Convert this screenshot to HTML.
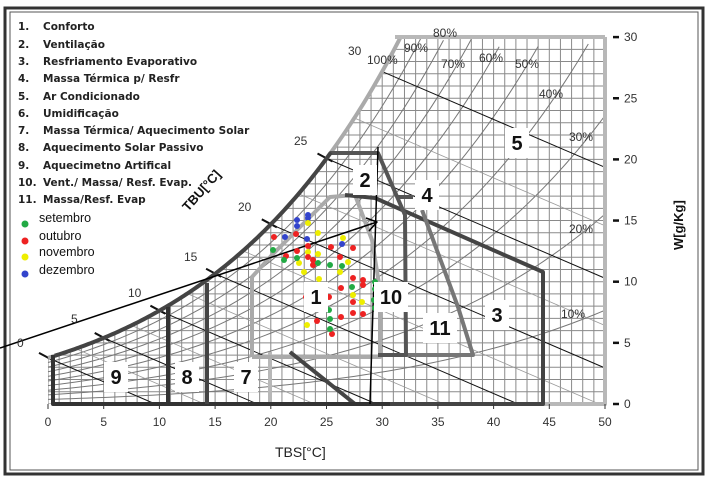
<!DOCTYPE html>
<html><head><meta charset="utf-8"><style>
html,body{margin:0;padding:0;background:#fff;width:710px;height:481px;overflow:hidden}
svg{display:block}
text{font-family:"Liberation Sans",Arial,sans-serif}
.lg{font-family:"DejaVu Sans",sans-serif;font-weight:bold;font-size:10.5px;fill:#222}
.ax{font-size:12px;fill:#333}
.bx{font-size:20px;font-weight:bold;fill:#111}
</style></head><body>
<svg id="s" width="710" height="481" viewBox="0 0 710 481" xmlns="http://www.w3.org/2000/svg">
<rect x="5" y="8" width="698" height="466" fill="none" stroke="#333" stroke-width="3"/>
<rect x="10" y="12" width="688" height="458" fill="none" stroke="#555" stroke-width="1"/>
<defs><clipPath id="cp"><path id="cpp" d=""/></clipPath></defs>
<g id="grid" clip-path="url(#cp)"></g>
<g id="curves"></g>
<g id="zones" fill="none" stroke-linejoin="round"></g>
<g id="dots"></g>
<g id="labels">
<text class="lg" x="18" y="30">1.</text><text class="lg" x="43" y="30">Conforto</text>
<text class="lg" x="18" y="48">2.</text><text class="lg" x="43" y="48">Ventilação</text>
<text class="lg" x="18" y="65">3.</text><text class="lg" x="43" y="65">Resfriamento Evaporativo</text>
<text class="lg" x="18" y="82">4.</text><text class="lg" x="43" y="82">Massa Térmica p/ Resfr</text>
<text class="lg" x="18" y="100">5.</text><text class="lg" x="43" y="100">Ar Condicionado</text>
<text class="lg" x="18" y="117">6.</text><text class="lg" x="43" y="117">Umidificação</text>
<text class="lg" x="18" y="134">7.</text><text class="lg" x="43" y="134">Massa Térmica/ Aquecimento Solar</text>
<text class="lg" x="18" y="151">8.</text><text class="lg" x="43" y="151">Aquecimento Solar Passivo</text>
<text class="lg" x="18" y="169">9.</text><text class="lg" x="43" y="169">Aquecimetno Artifical</text>
<text class="lg" x="18" y="186">10.</text><text class="lg" x="43" y="186">Vent./ Massa/ Resf. Evap.</text>
<text class="lg" x="18" y="203">11.</text><text class="lg" x="43" y="203">Massa/Resf. Evap</text>
<circle cx="25" cy="224" r="3.5" fill="#22aa44"/><text x="39" y="222" font-size="12.5" fill="#111">setembro</text>
<circle cx="25" cy="241" r="3.5" fill="#ee2222"/><text x="39" y="240" font-size="12.5" fill="#111">outubro</text>
<circle cx="25" cy="257" r="3.5" fill="#eeee00"/><text x="39" y="256" font-size="12.5" fill="#111">novembro</text>
<circle cx="25" cy="274" r="3.5" fill="#3344cc"/><text x="39" y="274" font-size="12.5" fill="#111">dezembro</text>
<text x="188" y="212" font-size="13" fill="#111" transform="rotate(-48 188 212)" font-weight="bold">TBU[°C]</text>
<text x="683" y="250" font-size="13" fill="#111" transform="rotate(-90 683 250)" font-weight="bold">W[g/Kg]</text>
<text x="275" y="457" font-size="14" fill="#222">TBS[°C]</text>
<text class="ax" x="17" y="347">0</text><text class="ax" x="71" y="323">5</text>
<text class="ax" x="128" y="297">10</text><text class="ax" x="184" y="261">15</text>
<text class="ax" x="238" y="211">20</text><text class="ax" x="294" y="145">25</text>
<text class="ax" x="348" y="55">30</text>
<text class="ax" x="367" y="64">100%</text><text class="ax" x="404" y="52">90%</text>
<text class="ax" x="433" y="37">80%</text><text class="ax" x="441" y="68">70%</text>
<text class="ax" x="479" y="62">60%</text><text class="ax" x="515" y="68">50%</text>
<text class="ax" x="539" y="98">40%</text><text class="ax" x="569" y="141">30%</text>
<text class="ax" x="569" y="233">20%</text><text class="ax" x="561" y="318">10%</text>
</g>
<g id="boxes"></g>
</svg>
<script>
var S=document.getElementById('s'),NS='http://www.w3.org/2000/svg';
function X(t){return 48+t*11.14}function Y(w){return 404-w*12.23}
function pws(t){return 610.78*Math.exp(17.27*t/(t+237.3))}
function Wr(t,f){var p=f*pws(t);return 622*p/(101325-p)}
function el(g,n,a){var e=document.createElementNS(NS,n);for(var k in a)e.setAttribute(k,a[k]);document.getElementById(g).appendChild(e);return e}
function line(g,x1,y1,x2,y2,c,w){return el(g,'line',{x1:x1,y1:y1,x2:x2,y2:y2,stroke:c,'stroke-width':w})}
// sat curve
var sat=[],t;for(t=0;t<=31.6;t+=0.2){var w=Wr(t,1);if(w>30)break;sat.push([X(t),Y(w)])}
var tsat30=t;sat.push([X(31.5),Y(30)]);
var d='M48,404 L'+sat.map(p=>p.join(',')).join(' L')+' L605,37 L605,404 Z';
document.getElementById('cpp').setAttribute('d',d);
for(var i=0;i<=50;i++)line('grid',X(i),37,X(i),404,'#8a8a8a',1);
for(var j=0;j<=30;j++)line('grid',48,Y(j),605,Y(j),'#8a8a8a',1);
// RH curves
for(var f=0.1;f<0.95;f+=0.1){var pts=[];for(t=0;t<=50;t+=0.5){var w=Wr(t,f);if(w>30)break;pts.push(X(t)+','+Y(w))}
el('curves','polyline',{points:pts.join(' '),fill:'none',stroke:'#777','stroke-width':1})}
// wet bulb lines
function wb(tw,c,sw,tick){var w0=Wr(tw,1),x0=X(tw),y0=Y(w0);var k=0.43;var x1=x0+(404-y0)/k,y1=404;if(x1>605){x1=605;y1=y0+(605-x0)*k}
line('curves',x0,y0,x1,y1,c,sw);if(tick)line('curves',x0-9,y0-5,x0+6,y0+3,'#111',2)}
for(t=2.5;t<30;t+=5)wb(t,'#999',0.8,false);
for(t=0;t<=30;t+=5)wb(t,'#111',1,t<30);
el('curves','polyline',{points:sat.map(p=>p.join(',')).join(' '),fill:'none',stroke:'#aaa','stroke-width':4});
// zones
function pl(p,c,w){el('zones','polyline',{points:p,stroke:c,'stroke-width':w})}
pl('605,37 605,404 270,404 270,352','#b8b8b8',4);
pl('395,37 605,37','#b8b8b8',4);
pl('252,357 252,277 272,255 330,197 355,195 372,240 380,290 380,357 252,357','#aaa',4);
pl('290,352 355,404 543,404 543,272 375,198 345,195','#444',4);
pl('397,197 413,197','#555',4);
pl('422,210 458,307 473,355 406,355','#777',4);
pl('330,153 378,153 405,215 406,355 378,355','#555',4);
var dk=sat.filter(p=>p[0]>=53&&p[0]<=331).map(p=>p.join(',')).join(' ');
pl('53,355 53,404 390,404','#333',4);
pl(dk,'#444',4);
pl('168,404 168,307','#333',4);pl('207,404 207,283','#444',4);
// black arrow lines
line('zones',0,348,377,222,'#000',1.5);
line('zones',378,147,370,404,'#000',1.5);
el('zones','polyline',{points:'366,218 377,222 369,231',stroke:'#000','stroke-width':1.5});
// dots
var D={b:'#3344cc',y:'#eeee00',r:'#ee2222',g:'#22aa44'};
var pts={b:[[297,220],[297,226],[308,215],[308,218],[285,237],[307,239],[342,244]],
y:[[318,233],[343,238],[308,252],[318,254],[299,263],[348,262],[304,272],[340,272],[319,279],[353,295],[362,302],[307,325],[308,223]],
r:[[274,237],[296,234],[308,246],[331,247],[353,248],[297,251],[286,256],[308,257],[313,260],[313,265],[340,257],[353,278],[363,280],[363,285],[341,288],[306,297],[329,297],[353,302],[387,296],[353,313],[363,314],[341,317],[317,321],[332,334]],
g:[[273,250],[297,258],[284,260],[330,265],[342,266],[318,263],[352,287],[375,282],[375,289],[374,300],[375,308],[329,310],[330,319],[330,329]]};
for(var c in pts)pts[c].forEach(p=>el('dots','circle',{cx:p[0],cy:p[1],r:3,fill:D[c]}));
// boxes
[['1',316,297],['10',391,297],['11',440,328],['3',497,315],['2',365,180],['4',427,195],['5',517,143],['9',116,377],['8',187,377],['7',246,377]].forEach(b=>{
var wd=b[0].length>1?34:24;el('boxes','rect',{x:b[1]-wd/2,y:b[2]-15,width:wd,height:30,fill:'#fff'});
var tx=el('boxes','text',{x:b[1],y:b[2]+7,'text-anchor':'middle','class':'bx'});tx.textContent=b[0]});
// axes
for(i=0;i<=50;i+=5){var tx=el('labels','text',{x:X(i),y:426,'text-anchor':'middle','class':'ax'});tx.textContent=i;line('labels',X(i),404,X(i),409,'#333',1)}
for(j=0;j<=30;j+=5){line('labels',613,Y(j),619,Y(j),'#111',2.5);var tx=el('labels','text',{x:624,y:Y(j)+4,'class':'ax'});tx.textContent=j}
</script>
</body></html>
